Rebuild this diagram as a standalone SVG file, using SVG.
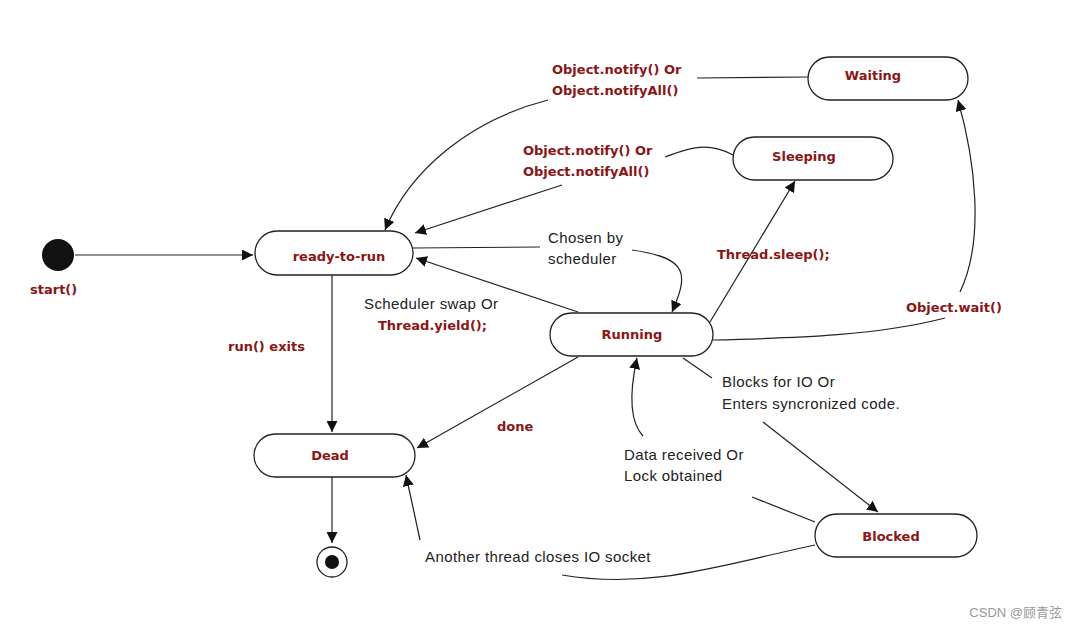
<svg xmlns="http://www.w3.org/2000/svg" width="1077" height="630" viewBox="0 0 1077 630">
<defs>
<marker id="a" viewBox="0 0 10 10" refX="10" refY="5" markerWidth="11" markerHeight="11" markerUnits="userSpaceOnUse" orient="auto"><path d="M0,0 L10,5 L0,10 z" fill="#111"/></marker>
<style>
.n{fill:#fff;stroke:#222;stroke-width:1.3}
.t{font-family:"DejaVu Sans",sans-serif;font-weight:bold;font-size:13px;fill:#8b1414}
.b{font-family:"Liberation Sans",Arial,sans-serif;font-size:15px;letter-spacing:0.4px;fill:#222}
.c path,.c line{fill:none;stroke:#222;stroke-width:1.2}
.ar{marker-end:url(#a)}
</style>
</defs>
<rect width="1077" height="630" fill="#fff"/>
<g class="c">
<line class="ar" x1="75" y1="255" x2="253" y2="255"/>
<line x1="808" y1="77" x2="697" y2="78"/>
<path class="ar" d="M548,100 C470,120 410,170 385,230"/>
<path d="M733,155 C705,140 685,150 665,157"/>
<line class="ar" x1="562" y1="185" x2="415" y2="233"/>
<line x1="413" y1="248" x2="540" y2="247"/>
<path class="ar" d="M632,250 C690,258 688,275 672,312"/>
<line class="ar" x1="578" y1="312" x2="416" y2="258"/>
<line class="ar" x1="332" y1="275" x2="332" y2="432"/>
<line class="ar" x1="578" y1="357" x2="417" y2="448"/>
<line class="ar" x1="710" y1="322" x2="795" y2="181"/>
<path d="M713,340 C800,338 880,335 945,318"/>
<path class="ar" d="M960,292 C985,240 975,160 958,100"/>
<line x1="683" y1="358" x2="712" y2="378"/>
<line class="ar" x1="763" y1="422" x2="878" y2="512"/>
<line x1="815" y1="522" x2="752" y2="497"/>
<path class="ar" d="M643,436 C628,420 630,390 637,358"/>
<path d="M815,545 C720,565 650,590 562,575"/>
<line class="ar" x1="420" y1="540" x2="406" y2="475"/>
<line class="ar" x1="332" y1="477" x2="332" y2="543"/>
</g>
<g id="start"><circle cx="58" cy="255" r="16" fill="#111"/><text class="t" x="30" y="294">start()</text></g>
<g id="end"><circle cx="332" cy="562" r="15" fill="#fff" stroke="#222" stroke-width="1.3"/><circle cx="332" cy="562" r="7" fill="#111"/></g>
<g id="waiting"><rect class="n" x="808" y="57" width="160" height="43" rx="21.5"/><text class="t" x="873" y="80" text-anchor="middle">Waiting</text></g>
<g id="sleeping"><rect class="n" x="733" y="137" width="160" height="43" rx="21.5"/><text class="t" x="804" y="161" text-anchor="middle">Sleeping</text></g>
<g id="ready"><rect class="n" x="255" y="231" width="158" height="44" rx="22"/><text class="t" x="339" y="261" text-anchor="middle">ready-to-run</text></g>
<g id="running"><rect class="n" x="550" y="313" width="163" height="43" rx="21.5"/><text class="t" x="632" y="339" text-anchor="middle">Running</text></g>
<g id="dead"><rect class="n" x="254" y="434" width="161" height="43" rx="21.5"/><text class="t" x="330" y="460" text-anchor="middle">Dead</text></g>
<g id="blocked"><rect class="n" x="815" y="514" width="162" height="43" rx="21.5"/><text class="t" x="891" y="541" text-anchor="middle">Blocked</text></g>
<g id="labels">
<text class="t" x="552" y="74">Object.notify() Or</text>
<text class="t" x="552" y="95">Object.notifyAll()</text>
<text class="t" x="523" y="155">Object.notify() Or</text>
<text class="t" x="523" y="176">Object.notifyAll()</text>
<text class="b" x="548" y="243">Chosen by</text>
<text class="b" x="548" y="264">scheduler</text>
<text class="t" x="717" y="259">Thread.sleep();</text>
<text class="b" x="364" y="309">Scheduler swap Or</text>
<text class="t" x="378" y="330">Thread.yield();</text>
<text class="t" x="906" y="312">Object.wait()</text>
<text class="t" x="228" y="351">run() exits</text>
<text class="t" x="497" y="431">done</text>
<text class="b" x="722" y="387">Blocks for IO Or</text>
<text class="b" x="722" y="409">Enters syncronized code.</text>
<text class="b" x="624" y="460">Data received Or</text>
<text class="b" x="624" y="481">Lock obtained</text>
<text class="b" x="425" y="562">Another thread closes IO socket</text>
</g>
<text x="1062" y="617" text-anchor="end" style="font-family:'Liberation Sans','Noto Sans CJK SC',sans-serif;font-size:13px;fill:#999">CSDN @顾青弦</text>
</svg>
